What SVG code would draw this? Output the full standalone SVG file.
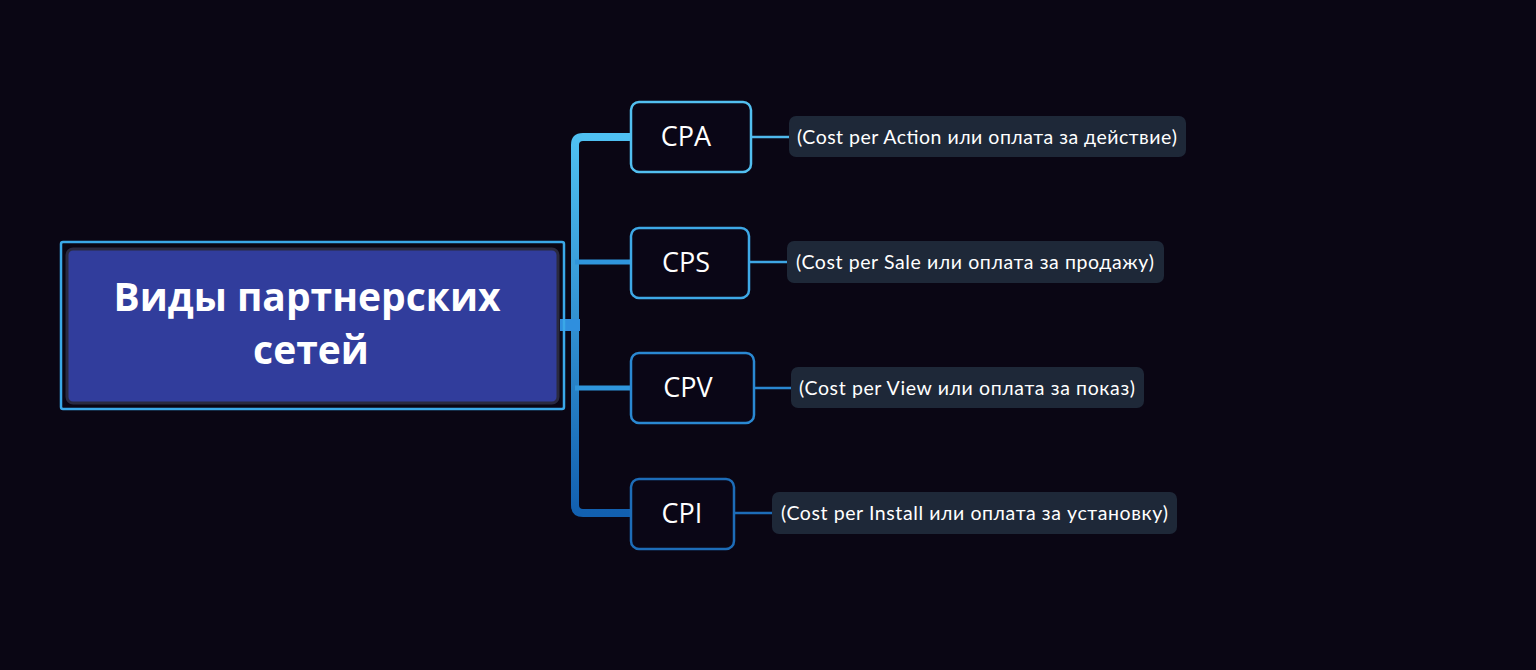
<svg xmlns="http://www.w3.org/2000/svg" width="1536" height="670" viewBox="0 0 1536 670">
<defs>
<linearGradient id="tr" x1="0" y1="0" x2="0" y2="1"><stop offset="0" stop-color="#4fc0f2"/><stop offset="1" stop-color="#1260b0"/></linearGradient>
<style>
.n{fill:#0a0616;stroke-width:2.5;}
.nt{font-family:"Open Sans","Liberation Sans",sans-serif;font-size:27px;fill:#fff;text-anchor:middle;}
.lb{fill:#1e2838;}
.lt{font-family:"Lato","Liberation Sans",sans-serif;font-size:19.5px;fill:#fff;}
.c{stroke-width:2.5;fill:none;}
</style>
</defs>
<rect width="1536" height="670" fill="#0a0614"/>
<g id="connectors">
<path d="M630,137 H583 Q575,137 575,145 V505 Q575,513 583,513 H630" fill="none" stroke="url(#tr)" stroke-width="8"/>
<path d="M575,262 H630 M575,388 H630" stroke="#2f95dc" stroke-width="5"/>
<rect x="560" y="319" width="20" height="12" fill="#2f8fde"/>
<line class="c" x1="751" y1="137" x2="789" y2="137" stroke="#4fb8ec"/>
<line class="c" x1="749" y1="262" x2="787" y2="262" stroke="#3ea6e4"/>
<line class="c" x1="754" y1="388" x2="791" y2="388" stroke="#2a86d0"/>
<line class="c" x1="734" y1="513" x2="772" y2="513" stroke="#1d6cb8"/>
</g>
<g id="root">
<rect x="61" y="242" width="503" height="167" fill="none" stroke="#3aa8e8" stroke-width="2.5" rx="2"/>
<rect x="67" y="249" width="491" height="154" rx="6" fill="#313d9c" stroke="#2a2a40" stroke-width="3"/>
<text font-family="'Open Sans','Noto Sans',sans-serif" font-weight="bold" font-size="39" fill="#fff" text-anchor="middle"><tspan x="307" y="311">Виды партнерских</tspan><tspan x="311" y="364">сетей</tspan></text>
</g>
<g id="cpa"><rect class="n" x="631" y="102" width="120" height="70" rx="8" stroke="#52bff0"/><text class="nt" x="686" y="146">CPA</text></g>
<g id="cps"><rect class="n" x="631" y="228" width="118" height="70" rx="8" stroke="#3ea8e6"/><text class="nt" x="686" y="272">CPS</text></g>
<g id="cpv"><rect class="n" x="631" y="353" width="123" height="70" rx="8" stroke="#2a88d2"/><text class="nt" x="688" y="397">CPV</text></g>
<g id="cpi"><rect class="n" x="631" y="479" width="103" height="70" rx="8" stroke="#1d6cb8"/><text class="nt" x="682" y="523">CPI</text></g>
<g id="l1"><rect class="lb" x="789" y="116" width="397" height="41" rx="7"/><text class="lt" x="797" y="144" textLength="380">(Cost per Action или оплата за действие)</text></g>
<g id="l2"><rect class="lb" x="787" y="241" width="377" height="42" rx="7"/><text class="lt" x="796" y="269" textLength="358">(Cost per Sale или оплата за продажу)</text></g>
<g id="l3"><rect class="lb" x="791" y="367" width="353" height="41" rx="7"/><text class="lt" x="799" y="395" textLength="336">(Cost per View или оплата за показ)</text></g>
<g id="l4"><rect class="lb" x="772" y="492" width="405" height="42" rx="7"/><text class="lt" x="781" y="520" textLength="387">(Cost per Install или оплата за установку)</text></g>
</svg>
